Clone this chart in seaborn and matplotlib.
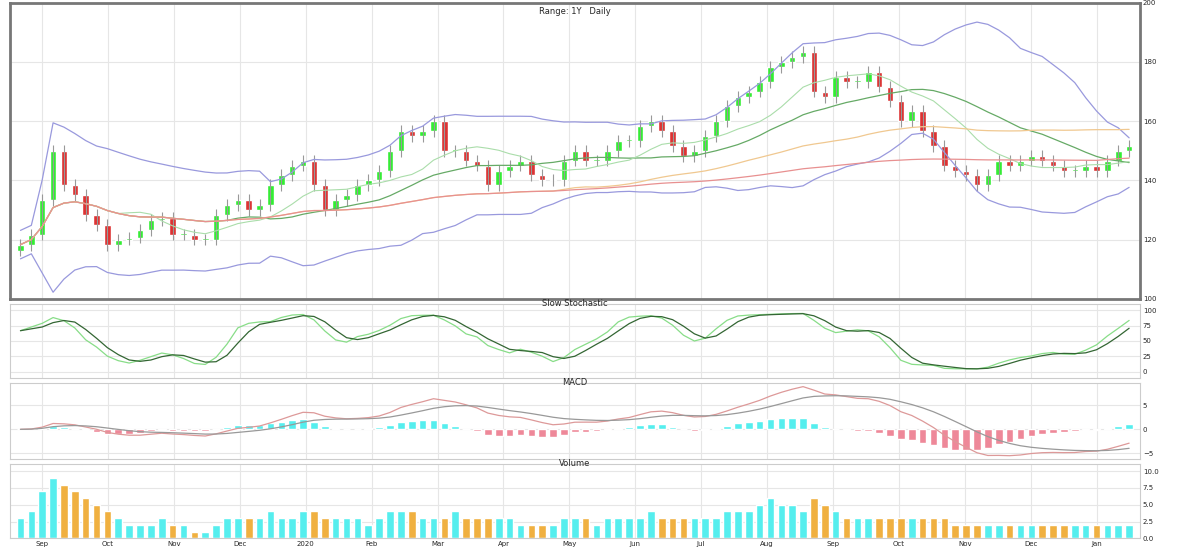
import numpy as np
import pandas as pd
import matplotlib
matplotlib.use('Agg')
import matplotlib.pyplot as plt
import seaborn as sns

# closing prices, one per bar
closes = [118.3, 121.7, 133.3, 150.0, 138.3, 135.0, 128.3, 125.0, 118.3, 120.0,
          120.7, 123.3, 126.7, 127.3, 121.7, 121.7, 120.0, 120.0, 128.3, 131.7,
          133.3, 130.0, 131.7, 138.3, 141.7, 145.0, 146.7, 138.3, 130.0, 133.3,
          135.0, 138.3, 140.0, 143.3, 150.0, 156.7, 155.0, 156.7, 160.0, 150.0,
          150.0, 146.7, 145.0, 138.3, 143.3, 145.0, 146.7, 141.7, 140.0, 140.0,
          146.7, 150.0, 146.7, 146.7, 150.0, 153.3, 153.3, 158.3, 160.0, 156.7,
          151.7, 148.3, 150.0, 155.0, 160.0, 165.0, 168.3, 170.0, 173.3, 178.3,
          180.0, 181.7, 183.3, 170.0, 168.3, 175.0, 173.3, 173.3, 176.7, 171.7,
          166.7, 160.0, 163.3, 156.7, 151.7, 145.0, 143.3, 141.7, 138.3, 141.7,
          146.7, 145.0, 146.7, 148.3, 146.7, 145.0, 143.3, 143.3, 145.0, 143.3,
          146.7, 150.0, 151.7]
volumes = [3, 4, 7, 9, 8, 7, 6, 5, 4, 3,
           2, 2, 2, 3, 2, 2, 1, 1, 2, 3,
           3, 3, 3, 4, 3, 3, 4, 4, 3, 3,
           3, 3, 2, 3, 4, 4, 4, 3, 3, 3,
           4, 3, 3, 3, 3, 3, 2, 2, 2, 2,
           3, 3, 3, 2, 3, 3, 3, 3, 4, 3,
           3, 3, 3, 3, 3, 4, 4, 4, 5, 6,
           5, 5, 4, 6, 5, 4, 3, 3, 3, 3,
           3, 3, 3, 3, 3, 3, 2, 2, 2, 2,
           2, 2, 2, 2, 2, 2, 2, 2, 2, 2,
           2, 2, 2]
month_labels = ['Sep', 'Oct', 'Nov', 'Dec', '2020', 'Feb', 'Mar', 'Apr', 'May',
                'Jun', 'Jul', 'Aug', 'Sep', 'Oct', 'Nov', 'Dec', 'Jan']

df = pd.DataFrame({'close': closes, 'volume': volumes})
df['x'] = np.arange(len(df))
df['open'] = df['close'].shift(1).fillna(df['close'] - 2)
df['high'] = df[['open', 'close']].max(axis=1) + 2
df['low'] = df[['open', 'close']].min(axis=1) - 2
up = df['close'] >= df['open']

c = df['close']
df['mid'] = c.rolling(20, min_periods=1).mean()
sd = c.rolling(20, min_periods=2).std().bfill()
df['bb_up'] = df['mid'] + 2 * sd
df['bb_dn'] = df['mid'] - 2 * sd
df['ma10'] = c.rolling(10, min_periods=1).mean()
df['ma50'] = c.rolling(50, min_periods=1).mean()
df['ma100'] = c.rolling(100, min_periods=1).mean()
lo = df['low'].rolling(14, min_periods=1).min()
hi = df['high'].rolling(14, min_periods=1).max()
df['k'] = (100 * (c - lo) / (hi - lo)).rolling(3, min_periods=1).mean()
df['d'] = df['k'].rolling(3, min_periods=1).mean()
df['macd'] = c.ewm(span=12).mean() - c.ewm(span=26).mean()
df['signal'] = df['macd'].ewm(span=9).mean()
df['hist'] = df['macd'] - df['signal']

sns.set_style('whitegrid', {'grid.color': '#e6e6e6'})
plt.rcParams['font.family'] = ['DejaVu Sans']
fig, axes = plt.subplots(4, 1, figsize=(12, 5.55), dpi=100, sharex=True,
                         gridspec_kw={'height_ratios': [300, 75, 77, 75], 'hspace': 0.04})
fig.subplots_adjust(left=0.008, right=0.95, top=0.995, bottom=0.03)
ax, ax2, ax3, ax4 = axes

# price panel
ax.vlines(df['x'], df['low'], df['high'], color='#999999', lw=0.8)
ax.bar(df['x'], (df['close'] - df['open']).abs().clip(lower=0.6),
       bottom=df[['open', 'close']].min(axis=1), width=0.6,
       color=np.where(up, '#33ee33', '#dd3333'))
sns.lineplot(data=df, x='x', y='bb_up', ax=ax, color='#9999dd', lw=0.9)
sns.lineplot(data=df, x='x', y='bb_dn', ax=ax, color='#9999dd', lw=0.9)
sns.lineplot(data=df, x='x', y='mid', ax=ax, color='#66aa66', lw=0.9)
sns.lineplot(data=df, x='x', y='ma10', ax=ax, color='#aaddaa', lw=0.8)
sns.lineplot(data=df, x='x', y='ma50', ax=ax, color='#f0c890', lw=0.9)
sns.lineplot(data=df, x='x', y='ma100', ax=ax, color='#e89090', lw=0.9)
ax.set_ylim(100, 200)
ax.text(0.5, 0.985, 'Range: 1Y   Daily', transform=ax.transAxes, fontsize=6,
        ha='center', va='top')
for s in ax.spines.values():
    s.set_color('#777777')
    s.set_linewidth(2)

# stochastics
sns.lineplot(data=df, x='x', y='k', ax=ax2, color='#88dd88', lw=0.9)
sns.lineplot(data=df, x='x', y='d', ax=ax2, color='#336633', lw=0.9)
ax2.set_ylim(-10, 110)
ax2.set_title('Slow Stochastic', fontsize=6, y=0.86)

# MACD
ax3.bar(df['x'], df['hist'], width=0.7,
        color=np.where(df['hist'] >= 0, '#55eeee', '#ee8899'))
sns.lineplot(data=df, x='x', y='macd', ax=ax3, color='#dd9999', lw=0.9)
sns.lineplot(data=df, x='x', y='signal', ax=ax3, color='#999999', lw=0.9)
ax3.set_title('MACD', fontsize=6, y=0.86)

# volume
ax4.bar(df['x'], df['volume'], width=0.7, color=np.where(up, '#55eeee', '#f0b040'))
ax4.set_ylim(0, 11)
ax4.set_title('Volume', fontsize=6, y=0.86)

ticks = np.linspace(2, len(df) - 4, len(month_labels))
for a in axes:
    a.yaxis.tick_right()
    a.set_ylabel('')
    a.set_xlabel('')
    a.tick_params(labelsize=5, length=0, pad=2)
    a.set_xlim(-1, len(df))
ax4.set_xticks(ticks)
ax4.set_xticklabels(month_labels)

fig.savefig('out.png')
